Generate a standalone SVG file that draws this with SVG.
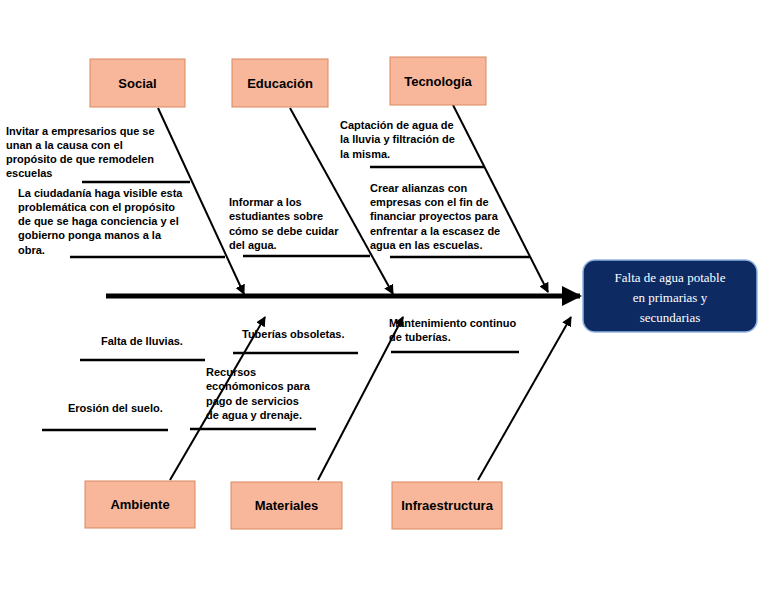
<svg xmlns="http://www.w3.org/2000/svg" width="768" height="594" viewBox="0 0 768 594">
<style>
.box{fill:#F8B79B;stroke:#D9885F;stroke-width:1}
.bl{font-family:"Liberation Sans",Arial,sans-serif;font-weight:bold;font-size:13px;fill:#000;text-anchor:middle}
.t{font-family:"Liberation Sans",Arial,sans-serif;font-weight:bold;font-size:11px;fill:#000}
.ln{stroke:#000;stroke-width:2;fill:none}
.hl{stroke:#000;stroke-width:2.5}
</style>
<defs>
<marker id="a" viewBox="0 0 10 10" refX="9" refY="5" markerWidth="5" markerHeight="5" orient="auto"><path d="M0,0L10,5L0,10z"/></marker>
<marker id="big" viewBox="0 0 10 10" refX="9" refY="5" markerWidth="4" markerHeight="4" orient="auto"><path d="M0,0L10,5L0,10z"/></marker>
</defs>
<rect width="768" height="594" fill="#fff"/>
<g id="connectors">
<line x1="106" y1="296" x2="580" y2="296" stroke="#000" stroke-width="5" marker-end="url(#big)"/>
<line class="ln" x1="158" y1="108" x2="244" y2="294" marker-end="url(#a)"/>
<line class="ln" x1="290" y1="108" x2="393" y2="294" marker-end="url(#a)"/>
<line class="ln" x1="453" y1="105" x2="548" y2="292" marker-end="url(#a)"/>
<line class="ln" x1="170" y1="480" x2="265" y2="317" marker-end="url(#a)"/>
<line class="ln" x1="318" y1="480" x2="403" y2="317" marker-end="url(#a)"/>
<line class="ln" x1="478" y1="480" x2="571" y2="317" marker-end="url(#a)"/>
<line class="hl" x1="82" y1="182" x2="190" y2="182"/>
<line class="hl" x1="70" y1="257" x2="225" y2="257"/>
<line class="hl" x1="243" y1="256" x2="370" y2="256"/>
<line class="hl" x1="370" y1="167" x2="485" y2="167"/>
<line class="hl" x1="390" y1="257" x2="530" y2="257"/>
<line class="hl" x1="80" y1="360" x2="205" y2="360"/>
<line class="hl" x1="233" y1="353" x2="358" y2="353"/>
<line class="hl" x1="391" y1="352" x2="519" y2="352"/>
<line class="hl" x1="42" y1="430" x2="168" y2="430"/>
<line class="hl" x1="190" y1="429" x2="316" y2="429"/>
</g>
<g id="social"><rect class="box" x="90" y="59" width="95" height="48"/><text class="bl" x="137.5" y="88">Social</text></g>
<g id="educacion"><rect class="box" x="232" y="59" width="96" height="48"/><text class="bl" x="280" y="88">Educación</text></g>
<g id="tecnologia"><rect class="box" x="390" y="57" width="96" height="48"/><text class="bl" x="438" y="86">Tecnología</text></g>
<g id="ambiente"><rect class="box" x="85" y="481" width="110" height="47"/><text class="bl" x="140" y="509">Ambiente</text></g>
<g id="materiales"><rect class="box" x="231" y="482" width="111" height="47"/><text class="bl" x="286.5" y="510">Materiales</text></g>
<g id="infraestructura"><rect class="box" x="392" y="482" width="110" height="47"/><text class="bl" x="447" y="510">Infraestructura</text></g>
<g id="efecto"><rect x="583" y="260" width="174" height="72" rx="12" fill="#0D2A63" stroke="#8EB4E3" stroke-width="1.5"/>
<text font-family="Liberation Serif,serif" font-size="13" fill="#fff" text-anchor="middle"><tspan x="670" y="282">Falta de agua potable</tspan><tspan x="670" y="302">en primarias y</tspan><tspan x="670" y="322">secundarias</tspan></text></g>
<g id="causas">
<text class="t"><tspan x="6" y="135">Invitar a empresarios que se</tspan><tspan x="6" y="149">unan a la causa con el</tspan><tspan x="6" y="163">propósito de que remodelen</tspan><tspan x="6" y="177">escuelas</tspan></text>
<text class="t"><tspan x="18" y="197">La ciudadanía haga visible esta</tspan><tspan x="18" y="211">problemática con el propósito</tspan><tspan x="18" y="225">de que se haga conciencia y el</tspan><tspan x="18" y="239">gobierno ponga manos a la</tspan><tspan x="18" y="254">obra.</tspan></text>
<text class="t"><tspan x="229" y="206">Informar a los</tspan><tspan x="229" y="220">estudiantes sobre</tspan><tspan x="229" y="235">cómo se debe cuidar</tspan><tspan x="229" y="249">del agua.</tspan></text>
<text class="t"><tspan x="340" y="129">Captación de agua de</tspan><tspan x="340" y="143">la lluvia y filtración de</tspan><tspan x="340" y="158">la misma.</tspan></text>
<text class="t"><tspan x="370" y="192">Crear alianzas con</tspan><tspan x="370" y="206">empresas con el fin de</tspan><tspan x="370" y="220">financiar proyectos para</tspan><tspan x="370" y="235">enfrentar a la escasez de</tspan><tspan x="370" y="249">agua en las escuelas.</tspan></text>
<text class="t" x="101" y="345">Falta de lluvias.</text>
<text class="t" x="242" y="338">Tuberías obsoletas.</text>
<text class="t"><tspan x="389" y="327">Mantenimiento continuo</tspan><tspan x="389" y="341">de tuberías.</tspan></text>
<text class="t"><tspan x="206" y="376">Recursos</tspan><tspan x="206" y="390">económonicos para</tspan><tspan x="206" y="405">pago de servicios</tspan><tspan x="206" y="419">de agua y drenaje.</tspan></text>
<text class="t" x="68" y="412">Erosión del suelo.</text>
</g>
</svg>
